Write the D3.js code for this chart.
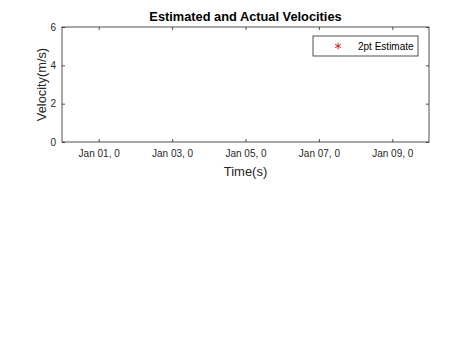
<!DOCTYPE html>
<html><head><meta charset="utf-8">
<script src="https://cdn.jsdelivr.net/npm/d3@7"></script>
<style>body{margin:0;background:#fff;font-family:"Liberation Sans",Arial,sans-serif;}</style>
</head><body><svg id="c" width="474" height="355"></svg>
<script>
// Data
const xTickValues = [1, 3, 5, 7, 9];           // day of January
const xTickLabels = ["Jan 01, 0", "Jan 03, 0", "Jan 05, 0", "Jan 07, 0", "Jan 09, 0"];
const xDomain = [0, 10];
const yTickValues = [0, 2, 4, 6];
const yDomain = [0, 6];
const estimateTimes = [];   // no visible points
const estimateValues = [];
const seriesName = "2pt Estimate";

const svg = d3.select("#c");
const m = {l: 62, r: 474 - 429, t: 27, b: 355 - 142};
const W = 474 - m.l - m.r, H = 355 - m.t - m.b;
const g = svg.append("g").attr("transform", `translate(${m.l},${m.t})`);
const x = d3.scaleLinear().domain(xDomain).range([0, W]);
const y = d3.scaleLinear().domain(yDomain).range([H, 0]);
const axisCol = "#262626";
const tickLen = 3;

function style(sel) {
  sel.select(".domain").remove();
  sel.selectAll("line").attr("stroke", axisCol).attr("stroke-width", 0.8);
  sel.selectAll("text").attr("fill", axisCol).attr("font-size", "10px").attr("font-family", "Liberation Sans, Arial, sans-serif");
}
const fmt = (d) => xTickLabels[xTickValues.indexOf(d)];
g.append("g").attr("transform", `translate(0,${H})`)
  .call(d3.axisBottom(x).tickValues(xTickValues).tickFormat(fmt).tickSizeInner(-tickLen).tickSizeOuter(0).tickPadding(8))
  .call(style);
g.append("g")
  .call(d3.axisTop(x).tickValues(xTickValues).tickFormat("").tickSizeInner(-tickLen).tickSizeOuter(0))
  .call(style);
g.append("g")
  .call(d3.axisLeft(y).tickValues(yTickValues).tickFormat(d3.format("d")).tickSizeInner(-tickLen).tickSizeOuter(0).tickPadding(6))
  .call(style);
g.append("g").attr("transform", `translate(${W},0)`)
  .call(d3.axisRight(y).tickValues(yTickValues).tickFormat("").tickSizeInner(-tickLen).tickSizeOuter(0))
  .call(style);
g.append("rect").attr("width", W).attr("height", H).attr("fill", "none").attr("stroke", axisCol).attr("stroke-width", 0.8);

// points (none)
g.selectAll(".pt").data(estimateTimes.map((t, i) => [t, estimateValues[i]])).enter()
  .append("path").attr("class", "pt").attr("d", d3.symbol(d3.symbolAsterisk, 30))
  .attr("transform", d => `translate(${x(d[0])},${y(d[1])})`).attr("stroke", "#d62020").attr("fill", "none");

// Title and labels
svg.append("text").attr("x", m.l + W / 2).attr("y", 20.5).attr("text-anchor", "middle")
  .attr("font-weight", "bold").attr("font-size", "12.8px").attr("fill", "#000").text("Estimated and Actual Velocities");
svg.append("text").attr("x", m.l + W / 2).attr("y", 176).attr("text-anchor", "middle")
  .attr("font-size", "13px").attr("fill", axisCol).text("Time(s)");
svg.append("text").attr("transform", `translate(46,${m.t + H / 2}) rotate(-90)`).attr("text-anchor", "middle")
  .attr("font-size", "12.8px").attr("fill", axisCol).text("Velocity(m/s)");

// Legend
const lg = svg.append("g").attr("transform", "translate(313,36)");
lg.append("rect").attr("width", 105).attr("height", 20).attr("fill", "#fff").attr("stroke", axisCol).attr("stroke-width", 0.8);
lg.append("path").attr("d", d3.symbol(d3.symbolAsterisk, 30)).attr("transform", "translate(25,10)")
  .attr("stroke", "#d62020").attr("stroke-width", 1).attr("fill", "none");
lg.append("text").attr("x", 45).attr("y", 14).attr("font-size", "10px").attr("fill", "#000").text(seriesName);
</script></body></html>
